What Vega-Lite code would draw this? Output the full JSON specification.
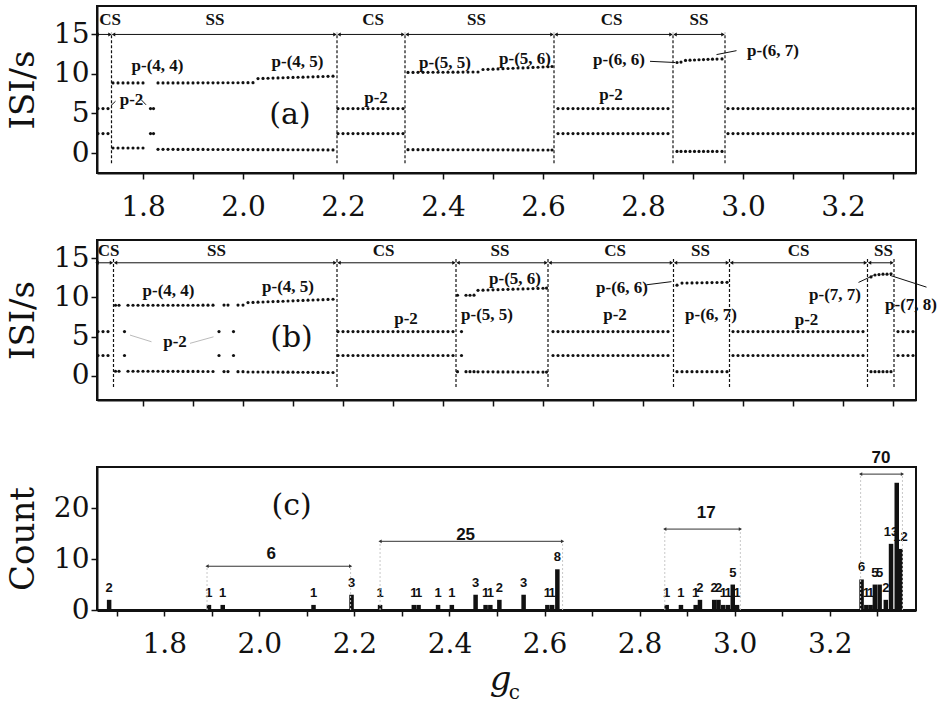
{
"$schema": "https://vega.github.io/schema/vega-lite/v6.json",
"background": "white",
"padding": 5,
"bounds": "flush",
"spacing": 67,
"config": {
  "view": {"stroke": "#111", "strokeWidth": 2},
  "axis": {"grid": false, "domainColor": "#111", "domainWidth": 2, "tickColor": "#111", "tickWidth": 1.5, "tickSize": 6, "labelFont": "DejaVu Serif", "labelFontSize": 28, "labelColor": "#111", "labelFlush": false, "labelOverlap": false, "titleFont": "DejaVu Serif", "titleFontSize": 34, "titleFontWeight": "normal", "titleColor": "#111"}
},
"datasets": {
"dotsA": [
{"g":1.71,"hi":5.62,"lo":2.46},{"g":1.72,"hi":5.62,"lo":2.46},{"g":1.73,"hi":5.62,"lo":2.46},
{"g":1.74,"hi":8.87,"lo":0.63},{"g":1.75,"hi":8.87,"lo":0.63},{"g":1.76,"hi":8.87,"lo":0.63},{"g":1.77,"hi":8.87,"lo":0.63},{"g":1.78,"hi":8.87,"lo":0.63},{"g":1.79,"hi":8.87,"lo":0.63},{"g":1.8,"hi":8.87,"lo":0.63},
{"g":1.815,"hi":5.62,"lo":2.46},{"g":1.821,"hi":5.62,"lo":2.46},
{"g":1.83,"hi":8.87,"lo":0.46},{"g":1.84,"hi":8.87,"lo":0.46},{"g":1.85,"hi":8.87,"lo":0.46},{"g":1.86,"hi":8.87,"lo":0.46},{"g":1.87,"hi":8.87,"lo":0.45},{"g":1.88,"hi":8.87,"lo":0.45},{"g":1.89,"hi":8.87,"lo":0.45},{"g":1.9,"hi":8.87,"lo":0.45},{"g":1.91,"hi":8.88,"lo":0.45},{"g":1.92,"hi":8.88,"lo":0.45},{"g":1.93,"hi":8.88,"lo":0.44},{"g":1.94,"hi":8.88,"lo":0.44},{"g":1.95,"hi":8.88,"lo":0.44},{"g":1.96,"hi":8.89,"lo":0.44},{"g":1.97,"hi":8.89,"lo":0.44},{"g":1.98,"hi":8.89,"lo":0.44},{"g":1.99,"hi":8.89,"lo":0.43},{"g":2.0,"hi":8.9,"lo":0.43},{"g":2.01,"hi":8.9,"lo":0.43},{"g":2.02,"hi":8.9,"lo":0.43},
{"g":2.03,"hi":9.42,"lo":0.42},{"g":2.04,"hi":9.44,"lo":0.42},{"g":2.05,"hi":9.46,"lo":0.42},{"g":2.06,"hi":9.48,"lo":0.42},{"g":2.07,"hi":9.5,"lo":0.42},{"g":2.08,"hi":9.52,"lo":0.42},{"g":2.09,"hi":9.54,"lo":0.41},{"g":2.1,"hi":9.56,"lo":0.41},{"g":2.11,"hi":9.58,"lo":0.41},{"g":2.12,"hi":9.6,"lo":0.41},{"g":2.13,"hi":9.62,"lo":0.4},{"g":2.14,"hi":9.64,"lo":0.4},{"g":2.15,"hi":9.66,"lo":0.4},{"g":2.16,"hi":9.68,"lo":0.4},{"g":2.17,"hi":9.7,"lo":0.39},{"g":2.18,"hi":9.72,"lo":0.39},
{"g":2.19,"hi":5.62,"lo":2.46},{"g":2.2,"hi":5.62,"lo":2.46},{"g":2.21,"hi":5.62,"lo":2.46},{"g":2.22,"hi":5.62,"lo":2.46},{"g":2.23,"hi":5.62,"lo":2.46},{"g":2.24,"hi":5.62,"lo":2.46},{"g":2.25,"hi":5.62,"lo":2.46},{"g":2.26,"hi":5.62,"lo":2.46},{"g":2.27,"hi":5.62,"lo":2.46},{"g":2.28,"hi":5.62,"lo":2.46},{"g":2.29,"hi":5.62,"lo":2.46},{"g":2.3,"hi":5.62,"lo":2.46},{"g":2.31,"hi":5.62,"lo":2.46},{"g":2.32,"hi":5.62,"lo":2.46},
{"g":2.33,"hi":10.2,"lo":0.42},{"g":2.34,"hi":10.2,"lo":0.42},{"g":2.35,"hi":10.21,"lo":0.42},{"g":2.36,"hi":10.21,"lo":0.42},{"g":2.37,"hi":10.21,"lo":0.42},{"g":2.38,"hi":10.22,"lo":0.42},{"g":2.39,"hi":10.22,"lo":0.42},{"g":2.4,"hi":10.22,"lo":0.41},{"g":2.41,"hi":10.23,"lo":0.41},{"g":2.42,"hi":10.23,"lo":0.41},{"g":2.43,"hi":10.23,"lo":0.41},{"g":2.44,"hi":10.24,"lo":0.41},{"g":2.45,"hi":10.24,"lo":0.41},{"g":2.46,"hi":10.25,"lo":0.41},{"g":2.47,"hi":10.25,"lo":0.41},
{"g":2.48,"hi":10.56,"lo":0.4},{"g":2.49,"hi":10.59,"lo":0.4},{"g":2.5,"hi":10.61,"lo":0.4},{"g":2.51,"hi":10.64,"lo":0.4},{"g":2.52,"hi":10.67,"lo":0.4},{"g":2.53,"hi":10.69,"lo":0.4},{"g":2.54,"hi":10.72,"lo":0.39},{"g":2.55,"hi":10.75,"lo":0.39},{"g":2.56,"hi":10.77,"lo":0.39},{"g":2.57,"hi":10.8,"lo":0.39},{"g":2.58,"hi":10.83,"lo":0.38},{"g":2.59,"hi":10.85,"lo":0.38},{"g":2.6,"hi":10.88,"lo":0.38},{"g":2.61,"hi":10.91,"lo":0.38},{"g":2.618,"hi":10.94,"lo":0.38},
{"g":2.63,"hi":5.62,"lo":2.46},{"g":2.64,"hi":5.62,"lo":2.46},{"g":2.65,"hi":5.62,"lo":2.46},{"g":2.66,"hi":5.62,"lo":2.46},{"g":2.67,"hi":5.62,"lo":2.46},{"g":2.68,"hi":5.62,"lo":2.46},{"g":2.69,"hi":5.62,"lo":2.46},{"g":2.7,"hi":5.62,"lo":2.46},{"g":2.71,"hi":5.62,"lo":2.46},{"g":2.72,"hi":5.62,"lo":2.46},{"g":2.73,"hi":5.62,"lo":2.46},{"g":2.74,"hi":5.62,"lo":2.46},{"g":2.75,"hi":5.62,"lo":2.46},{"g":2.76,"hi":5.62,"lo":2.46},{"g":2.77,"hi":5.62,"lo":2.46},{"g":2.78,"hi":5.62,"lo":2.46},{"g":2.79,"hi":5.62,"lo":2.46},{"g":2.8,"hi":5.62,"lo":2.46},{"g":2.81,"hi":5.62,"lo":2.46},{"g":2.82,"hi":5.62,"lo":2.46},{"g":2.83,"hi":5.62,"lo":2.46},{"g":2.84,"hi":5.62,"lo":2.46},{"g":2.85,"hi":5.62,"lo":2.46},
{"g":2.868,"hi":11.45,"lo":0.2},{"g":2.876,"hi":11.5,"lo":0.2},{"g":2.885,"hi":11.72,"lo":0.2},{"g":2.894,"hi":11.75,"lo":0.2},{"g":2.903,"hi":11.77,"lo":0.2},{"g":2.912,"hi":11.8,"lo":0.2},{"g":2.921,"hi":11.82,"lo":0.2},{"g":2.93,"hi":11.85,"lo":0.2},{"g":2.939,"hi":11.87,"lo":0.2},{"g":2.948,"hi":11.88,"lo":0.2},{"g":2.958,"hi":11.9,"lo":0.2},
{"g":2.97,"hi":5.62,"lo":2.46},{"g":2.98,"hi":5.62,"lo":2.46},{"g":2.99,"hi":5.62,"lo":2.46},{"g":3.0,"hi":5.62,"lo":2.46},{"g":3.01,"hi":5.62,"lo":2.46},{"g":3.02,"hi":5.62,"lo":2.46},{"g":3.03,"hi":5.62,"lo":2.46},{"g":3.04,"hi":5.62,"lo":2.46},{"g":3.05,"hi":5.62,"lo":2.46},{"g":3.06,"hi":5.62,"lo":2.46},{"g":3.07,"hi":5.62,"lo":2.46},{"g":3.08,"hi":5.62,"lo":2.46},{"g":3.09,"hi":5.62,"lo":2.46},{"g":3.1,"hi":5.62,"lo":2.46},{"g":3.11,"hi":5.62,"lo":2.46},{"g":3.12,"hi":5.62,"lo":2.46},{"g":3.13,"hi":5.62,"lo":2.46},{"g":3.14,"hi":5.62,"lo":2.46},{"g":3.15,"hi":5.62,"lo":2.46},{"g":3.16,"hi":5.62,"lo":2.46},{"g":3.17,"hi":5.62,"lo":2.46},{"g":3.18,"hi":5.62,"lo":2.46},{"g":3.19,"hi":5.62,"lo":2.46},{"g":3.2,"hi":5.62,"lo":2.46},{"g":3.21,"hi":5.62,"lo":2.46},{"g":3.22,"hi":5.62,"lo":2.46},{"g":3.23,"hi":5.62,"lo":2.46},{"g":3.24,"hi":5.62,"lo":2.46},{"g":3.25,"hi":5.62,"lo":2.46},{"g":3.26,"hi":5.62,"lo":2.46},{"g":3.27,"hi":5.62,"lo":2.46},{"g":3.28,"hi":5.62,"lo":2.46},{"g":3.29,"hi":5.62,"lo":2.46},{"g":3.3,"hi":5.62,"lo":2.46},{"g":3.31,"hi":5.62,"lo":2.46},{"g":3.32,"hi":5.62,"lo":2.46},{"g":3.33,"hi":5.62,"lo":2.46},{"g":3.34,"hi":5.62,"lo":2.46}
],
"dotsB": [
{"g":1.71,"hi":5.65,"lo":2.6},{"g":1.72,"hi":5.65,"lo":2.6},{"g":1.73,"hi":5.65,"lo":2.6},
{"g":1.745,"hi":9.0,"lo":0.6},{"g":1.752,"hi":9.0,"lo":0.6},
{"g":1.763,"hi":5.65,"lo":2.6},
{"g":1.77,"hi":9.0,"lo":0.6},{"g":1.78,"hi":9.0,"lo":0.6},{"g":1.79,"hi":9.0,"lo":0.6},{"g":1.8,"hi":9.0,"lo":0.6},{"g":1.81,"hi":9.0,"lo":0.6},{"g":1.82,"hi":9.0,"lo":0.6},{"g":1.83,"hi":9.0,"lo":0.6},{"g":1.84,"hi":9.0,"lo":0.59},{"g":1.85,"hi":9.0,"lo":0.59},{"g":1.86,"hi":9.0,"lo":0.59},{"g":1.87,"hi":9.0,"lo":0.59},{"g":1.88,"hi":9.0,"lo":0.58},{"g":1.89,"hi":9.0,"lo":0.58},{"g":1.9,"hi":9.0,"lo":0.58},{"g":1.91,"hi":9.0,"lo":0.58},{"g":1.92,"hi":9.01,"lo":0.57},{"g":1.93,"hi":9.01,"lo":0.57},{"g":1.94,"hi":9.01,"lo":0.57},
{"g":1.952,"hi":5.65,"lo":2.6},
{"g":1.962,"hi":9.02,"lo":0.56},{"g":1.97,"hi":9.02,"lo":0.56},
{"g":1.981,"hi":5.65,"lo":2.6},
{"g":1.99,"hi":9.02,"lo":0.55},{"g":2.0,"hi":9.02,"lo":0.55},
{"g":2.01,"hi":9.34,"lo":0.5},{"g":2.02,"hi":9.36,"lo":0.5},{"g":2.03,"hi":9.39,"lo":0.5},{"g":2.04,"hi":9.41,"lo":0.5},{"g":2.05,"hi":9.44,"lo":0.49},{"g":2.06,"hi":9.46,"lo":0.49},{"g":2.07,"hi":9.49,"lo":0.49},{"g":2.08,"hi":9.51,"lo":0.48},{"g":2.09,"hi":9.54,"lo":0.48},{"g":2.1,"hi":9.56,"lo":0.48},{"g":2.11,"hi":9.59,"lo":0.47},{"g":2.12,"hi":9.61,"lo":0.47},{"g":2.13,"hi":9.64,"lo":0.46},{"g":2.14,"hi":9.66,"lo":0.46},{"g":2.15,"hi":9.69,"lo":0.45},{"g":2.16,"hi":9.71,"lo":0.45},{"g":2.17,"hi":9.74,"lo":0.44},{"g":2.18,"hi":9.76,"lo":0.44},
{"g":2.19,"hi":5.65,"lo":2.6},{"g":2.2,"hi":5.65,"lo":2.6},{"g":2.21,"hi":5.65,"lo":2.6},{"g":2.22,"hi":5.65,"lo":2.6},{"g":2.23,"hi":5.65,"lo":2.6},{"g":2.24,"hi":5.65,"lo":2.6},{"g":2.25,"hi":5.65,"lo":2.6},{"g":2.26,"hi":5.65,"lo":2.6},{"g":2.27,"hi":5.65,"lo":2.6},{"g":2.28,"hi":5.65,"lo":2.6},{"g":2.29,"hi":5.65,"lo":2.6},{"g":2.3,"hi":5.65,"lo":2.6},{"g":2.31,"hi":5.65,"lo":2.6},{"g":2.32,"hi":5.65,"lo":2.6},{"g":2.33,"hi":5.65,"lo":2.6},{"g":2.34,"hi":5.65,"lo":2.6},{"g":2.35,"hi":5.65,"lo":2.6},{"g":2.36,"hi":5.65,"lo":2.6},{"g":2.37,"hi":5.65,"lo":2.6},{"g":2.38,"hi":5.65,"lo":2.6},{"g":2.39,"hi":5.65,"lo":2.6},{"g":2.4,"hi":5.65,"lo":2.6},{"g":2.41,"hi":5.65,"lo":2.6},{"g":2.42,"hi":5.65,"lo":2.6},
{"g":2.429,"hi":10.27,"lo":0.55},
{"g":2.437,"hi":5.65,"lo":2.6},
{"g":2.446,"hi":10.27,"lo":0.55},{"g":2.454,"hi":10.27,"lo":0.55},{"g":2.462,"hi":10.28,"lo":0.55},
{"g":2.47,"hi":10.9,"lo":0.52},{"g":2.48,"hi":10.92,"lo":0.52},{"g":2.49,"hi":10.94,"lo":0.52},{"g":2.5,"hi":10.96,"lo":0.52},{"g":2.51,"hi":10.98,"lo":0.51},{"g":2.52,"hi":11.0,"lo":0.51},{"g":2.53,"hi":11.02,"lo":0.51},{"g":2.54,"hi":11.04,"lo":0.51},{"g":2.55,"hi":11.06,"lo":0.5},{"g":2.56,"hi":11.08,"lo":0.5},{"g":2.57,"hi":11.1,"lo":0.5},{"g":2.58,"hi":11.12,"lo":0.5},{"g":2.59,"hi":11.14,"lo":0.49},{"g":2.6,"hi":11.16,"lo":0.49},{"g":2.607,"hi":11.18,"lo":0.49},
{"g":2.62,"hi":5.65,"lo":2.6},{"g":2.63,"hi":5.65,"lo":2.6},{"g":2.64,"hi":5.65,"lo":2.6},{"g":2.65,"hi":5.65,"lo":2.6},{"g":2.66,"hi":5.65,"lo":2.6},{"g":2.67,"hi":5.65,"lo":2.6},{"g":2.68,"hi":5.65,"lo":2.6},{"g":2.69,"hi":5.65,"lo":2.6},{"g":2.7,"hi":5.65,"lo":2.6},{"g":2.71,"hi":5.65,"lo":2.6},{"g":2.72,"hi":5.65,"lo":2.6},{"g":2.73,"hi":5.65,"lo":2.6},{"g":2.74,"hi":5.65,"lo":2.6},{"g":2.75,"hi":5.65,"lo":2.6},{"g":2.76,"hi":5.65,"lo":2.6},{"g":2.77,"hi":5.65,"lo":2.6},{"g":2.78,"hi":5.65,"lo":2.6},{"g":2.79,"hi":5.65,"lo":2.6},{"g":2.8,"hi":5.65,"lo":2.6},{"g":2.81,"hi":5.65,"lo":2.6},{"g":2.82,"hi":5.65,"lo":2.6},{"g":2.83,"hi":5.65,"lo":2.6},{"g":2.84,"hi":5.65,"lo":2.6},{"g":2.85,"hi":5.65,"lo":2.6},
{"g":2.868,"hi":11.55,"lo":0.55},{"g":2.878,"hi":11.82,"lo":0.55},{"g":2.888,"hi":11.83,"lo":0.55},{"g":2.898,"hi":11.84,"lo":0.55},{"g":2.908,"hi":11.85,"lo":0.55},{"g":2.918,"hi":11.86,"lo":0.55},{"g":2.928,"hi":11.87,"lo":0.55},{"g":2.938,"hi":11.88,"lo":0.55},{"g":2.948,"hi":11.89,"lo":0.55},{"g":2.958,"hi":11.9,"lo":0.55},{"g":2.968,"hi":11.91,"lo":0.55},
{"g":2.98,"hi":5.65,"lo":2.6},{"g":2.99,"hi":5.65,"lo":2.6},{"g":3.0,"hi":5.65,"lo":2.6},{"g":3.01,"hi":5.65,"lo":2.6},{"g":3.02,"hi":5.65,"lo":2.6},{"g":3.03,"hi":5.65,"lo":2.6},{"g":3.04,"hi":5.65,"lo":2.6},{"g":3.05,"hi":5.65,"lo":2.6},{"g":3.06,"hi":5.65,"lo":2.6},{"g":3.07,"hi":5.65,"lo":2.6},{"g":3.08,"hi":5.65,"lo":2.6},{"g":3.09,"hi":5.65,"lo":2.6},{"g":3.1,"hi":5.65,"lo":2.6},{"g":3.11,"hi":5.65,"lo":2.6},{"g":3.12,"hi":5.65,"lo":2.6},{"g":3.13,"hi":5.65,"lo":2.6},{"g":3.14,"hi":5.65,"lo":2.6},{"g":3.15,"hi":5.65,"lo":2.6},{"g":3.16,"hi":5.65,"lo":2.6},{"g":3.17,"hi":5.65,"lo":2.6},{"g":3.18,"hi":5.65,"lo":2.6},{"g":3.19,"hi":5.65,"lo":2.6},{"g":3.2,"hi":5.65,"lo":2.6},{"g":3.21,"hi":5.65,"lo":2.6},{"g":3.22,"hi":5.65,"lo":2.6},{"g":3.23,"hi":5.65,"lo":2.6},{"g":3.24,"hi":5.65,"lo":2.6},
{"g":3.256,"hi":12.6,"lo":0.55},{"g":3.264,"hi":12.85,"lo":0.55},{"g":3.272,"hi":12.9,"lo":0.55},{"g":3.28,"hi":12.95,"lo":0.55},{"g":3.288,"hi":12.95,"lo":0.55},{"g":3.296,"hi":13.0,"lo":0.55},
{"g":3.31,"hi":5.65,"lo":2.6},{"g":3.32,"hi":5.65,"lo":2.6},{"g":3.33,"hi":5.65,"lo":2.6},{"g":3.34,"hi":5.65,"lo":2.6}
],
"vlineA": [{"g":1.737,"y1":-1.3,"y2":15.2},{"g":2.188,"y1":-1.3,"y2":15.2},{"g":2.324,"y1":-1.3,"y2":15.2},{"g":2.622,"y1":-1.3,"y2":15.2},{"g":2.86,"y1":-1.3,"y2":15.2},{"g":2.964,"y1":-1.3,"y2":15.2}],
"vlineB": [{"g":1.741,"y1":-1.4,"y2":15.0},{"g":2.188,"y1":-1.4,"y2":15.0},{"g":2.426,"y1":-1.4,"y2":15.0},{"g":2.61,"y1":-1.4,"y2":15.0},{"g":2.861,"y1":-1.4,"y2":15.0},{"g":2.973,"y1":-1.4,"y2":15.0},{"g":3.249,"y1":-1.4,"y2":15.0},{"g":3.302,"y1":-1.4,"y2":15.0}],
"vlineC": [{"g":1.89,"y1":0,"y2":8.6},{"g":2.192,"y1":0,"y2":8.6},{"g":2.254,"y1":0,"y2":13.5},{"g":2.638,"y1":0,"y2":13.5},{"g":2.853,"y1":0,"y2":15.9},{"g":3.012,"y1":0,"y2":15.9},{"g":3.265,"y1":0,"y2":26.7},{"g":3.353,"y1":0,"y2":26.7}],
"arrA": [{"x1":1.708,"x2":1.734,"y":15.0},{"x1":1.741,"x2":2.184,"y":15.0},{"x1":2.192,"x2":2.32,"y":15.0},{"x1":2.328,"x2":2.618,"y":15.0},{"x1":2.626,"x2":2.856,"y":15.0},{"x1":2.864,"x2":2.96,"y":15.0}],
"arrB": [{"x1":1.708,"x2":1.737,"y":14.4},{"x1":1.745,"x2":2.184,"y":14.4},{"x1":2.192,"x2":2.422,"y":14.4},{"x1":2.43,"x2":2.606,"y":14.4},{"x1":2.614,"x2":2.857,"y":14.4},{"x1":2.865,"x2":2.969,"y":14.4},{"x1":2.977,"x2":3.245,"y":14.4},{"x1":3.253,"x2":3.298,"y":14.4}],
"arrC": [{"x1":1.89,"x2":2.192,"y":8.6},{"x1":2.254,"x2":2.638,"y":13.5},{"x1":2.853,"x2":3.012,"y":15.9},{"x1":3.265,"x2":3.353,"y":26.7}],
"bars": [
{"g":1.684,"n":2},
{"g":1.894,"n":1},{"g":1.923,"n":1},{"g":2.114,"n":1},{"g":2.194,"n":3},
{"g":2.254,"n":1},{"g":2.325,"n":1},{"g":2.335,"n":1},{"g":2.376,"n":1},{"g":2.405,"n":1},{"g":2.455,"n":3},{"g":2.476,"n":1},{"g":2.486,"n":1},{"g":2.505,"n":2},{"g":2.556,"n":3},{"g":2.606,"n":1},{"g":2.616,"n":1},{"g":2.627,"n":8},
{"g":2.857,"n":1},{"g":2.887,"n":1},{"g":2.918,"n":1},{"g":2.927,"n":2},{"g":2.957,"n":2},{"g":2.966,"n":2},{"g":2.976,"n":1},{"g":2.986,"n":1},{"g":2.996,"n":5},{"g":3.005,"n":1},
{"g":3.267,"n":6},{"g":3.277,"n":1},{"g":3.286,"n":1},{"g":3.295,"n":5},{"g":3.305,"n":5},{"g":3.318,"n":2},{"g":3.329,"n":13},{"g":3.341,"n":25},{"g":3.349,"n":12}
]
},
"vconcat": [
{
"width": 819, "height": 167,
"layer": [
{"data": {"name": "dotsA"}, "mark": {"type": "point", "filled": true, "size": 10, "color": "#111", "opacity": 1},
 "encoding": {
  "x": {"field": "g", "type": "quantitative", "scale": {"domain": [1.708, 3.346], "nice": false, "zero": false},
        "axis": {"values": [1.8,1.9,2.0,2.1,2.2,2.3,2.4,2.5,2.6,2.7,2.8,2.9,3.0,3.1,3.2,3.3], "labelExpr": "round(datum.value*10)%2==0 ? format(datum.value,'.1f') : ''", "labelPadding": 14, "labelOverlap": false}, "title": null},
  "y": {"field": "hi", "type": "quantitative", "scale": {"domain": [-2.53, 18.6], "nice": false, "zero": false},
        "axis": {"values": [0,2.5,5,7.5,10,12.5,15,17.5], "labelExpr": "datum.value%5==0 ? format(datum.value,'d') : ''", "labelPadding": 2, "labelOverlap": false, "titlePadding": 13}, "title": "ISI/s"}
 }},
{"data": {"name": "dotsA"}, "mark": {"type": "point", "filled": true, "size": 10, "color": "#111", "opacity": 1},
 "encoding": {"x": {"field": "g", "type": "quantitative", "title": null}, "y": {"field": "lo", "type": "quantitative", "title": "ISI/s"}}},
{"data": {"name": "vlineA"},
 "mark": {"type": "rule", "strokeDash": [3,2], "strokeWidth": 1.2, "color": "#111"},
 "encoding": {"x": {"field": "g", "type": "quantitative", "title": null}, "y": {"field": "y1", "type": "quantitative", "title": "ISI/s"}, "y2": {"field": "y2"}}},
{"data": {"name": "arrA"}, "mark": {"type": "rule", "strokeWidth": 1, "color": "#111"},
 "encoding": {"x": {"field": "x1", "type": "quantitative", "title": null}, "x2": {"field": "x2"}, "y": {"field": "y", "type": "quantitative", "title": "ISI/s"}}},
{"data": {"name": "arrA"}, "mark": {"type": "point", "shape": "triangle-left", "filled": true, "size": 16, "color": "#111", "opacity": 1},
 "encoding": {"x": {"field": "x1", "type": "quantitative", "title": null}, "y": {"field": "y", "type": "quantitative", "title": "ISI/s"}}},
{"data": {"name": "arrA"}, "mark": {"type": "point", "shape": "triangle-right", "filled": true, "size": 16, "color": "#111", "opacity": 1},
 "encoding": {"x": {"field": "x2", "type": "quantitative", "title": null}, "y": {"field": "y", "type": "quantitative", "title": "ISI/s"}}},
{"data": {"values": [{"x":1.734,"y":16.8,"t":"CS"},{"x":1.944,"y":16.8,"t":"SS"},{"x":2.26,"y":16.8,"t":"CS"},{"x":2.467,"y":16.8,"t":"SS"},{"x":2.737,"y":16.8,"t":"CS"},{"x":2.912,"y":16.8,"t":"SS"},
   {"x":1.829,"y":11.0,"t":"p-(4, 4)"},{"x":2.109,"y":11.5,"t":"p-(4, 5)"},{"x":1.777,"y":6.7,"t":"p-2"},{"x":2.266,"y":7.0,"t":"p-2"},{"x":2.404,"y":11.4,"t":"p-(5, 5)"},{"x":2.564,"y":11.95,"t":"p-(5, 6)"},{"x":2.752,"y":11.8,"t":"p-(6, 6)"},{"x":3.06,"y":12.9,"t":"p-(6, 7)"},{"x":2.736,"y":7.3,"t":"p-2"}]},
 "mark": {"type": "text", "font": "Liberation Serif", "fontWeight": "bold", "fontSize": 17, "color": "#111", "baseline": "middle"},
 "encoding": {"x": {"field": "x", "type": "quantitative", "title": null}, "y": {"field": "y", "type": "quantitative", "title": "ISI/s"}, "text": {"field": "t", "type": "nominal"}}},
{"data": {"values": [{"x":1.745,"y":6.55,"x2":1.736,"y2":6.0},{"x":1.797,"y":6.7,"x2":1.806,"y2":6.1},{"x":2.814,"y":11.6,"x2":2.864,"y2":11.45},{"x":2.987,"y":12.95,"x2":2.947,"y2":12.45}]},
 "mark": {"type": "rule", "strokeWidth": 1, "color": "#111"},
 "encoding": {"x": {"field": "x", "type": "quantitative", "title": null}, "y": {"field": "y", "type": "quantitative", "title": "ISI/s"}, "x2": {"field": "x2"}, "y2": {"field": "y2"}}},
{"data": {"values": [{"x":2.094,"y":4.86,"t":"(a)"}]},
 "mark": {"type": "text", "font": "DejaVu Serif", "fontSize": 30, "color": "#111", "baseline": "middle"},
 "encoding": {"x": {"field": "x", "type": "quantitative", "title": null}, "y": {"field": "y", "type": "quantitative", "title": "ISI/s"}, "text": {"field": "t", "type": "nominal"}}}
]
},
{
"width": 819, "height": 160,
"layer": [
{"data": {"name": "dotsB"}, "mark": {"type": "point", "filled": true, "size": 10, "color": "#111", "opacity": 1},
 "encoding": {
  "x": {"field": "g", "type": "quantitative", "scale": {"domain": [1.708, 3.346], "nice": false, "zero": false},
        "axis": {"values": [1.8,1.9,2.0,2.1,2.2,2.3,2.4,2.5,2.6,2.7,2.8,2.9,3.0,3.1,3.2,3.3], "labels": false}, "title": null},
  "y": {"field": "hi", "type": "quantitative", "scale": {"domain": [-3.06, 17.3], "nice": false, "zero": false},
        "axis": {"values": [0,2.5,5,7.5,10,12.5,15], "labelExpr": "datum.value%5==0 ? format(datum.value,'d') : ''", "labelPadding": 2, "labelOverlap": false, "titlePadding": 13}, "title": "ISI/s"}
 }},
{"data": {"name": "dotsB"}, "mark": {"type": "point", "filled": true, "size": 10, "color": "#111", "opacity": 1},
 "encoding": {"x": {"field": "g", "type": "quantitative", "title": null}, "y": {"field": "lo", "type": "quantitative", "title": "ISI/s"}}},
{"data": {"name": "vlineB"},
 "mark": {"type": "rule", "strokeDash": [3,2], "strokeWidth": 1.2, "color": "#111"},
 "encoding": {"x": {"field": "g", "type": "quantitative", "title": null}, "y": {"field": "y1", "type": "quantitative", "title": "ISI/s"}, "y2": {"field": "y2"}}},
{"data": {"name": "arrB"}, "mark": {"type": "rule", "strokeWidth": 1, "color": "#111"},
 "encoding": {"x": {"field": "x1", "type": "quantitative", "title": null}, "x2": {"field": "x2"}, "y": {"field": "y", "type": "quantitative", "title": "ISI/s"}}},
{"data": {"name": "arrB"}, "mark": {"type": "point", "shape": "triangle-left", "filled": true, "size": 16, "color": "#111", "opacity": 1},
 "encoding": {"x": {"field": "x1", "type": "quantitative", "title": null}, "y": {"field": "y", "type": "quantitative", "title": "ISI/s"}}},
{"data": {"name": "arrB"}, "mark": {"type": "point", "shape": "triangle-right", "filled": true, "size": 16, "color": "#111", "opacity": 1},
 "encoding": {"x": {"field": "x2", "type": "quantitative", "title": null}, "y": {"field": "y", "type": "quantitative", "title": "ISI/s"}}},
{"data": {"values": [{"x":1.731,"y":15.9,"t":"CS"},{"x":1.947,"y":15.9,"t":"SS"},{"x":2.281,"y":15.9,"t":"CS"},{"x":2.514,"y":15.9,"t":"SS"},{"x":2.744,"y":15.9,"t":"CS"},{"x":2.915,"y":15.9,"t":"SS"},{"x":3.111,"y":15.9,"t":"CS"},{"x":3.281,"y":15.9,"t":"SS"},
   {"x":1.851,"y":10.8,"t":"p-(4, 4)"},{"x":2.09,"y":11.3,"t":"p-(4, 5)"},{"x":1.864,"y":4.35,"t":"p-2"},{"x":2.326,"y":7.3,"t":"p-2"},{"x":2.488,"y":7.7,"t":"p-(5, 5)"},{"x":2.544,"y":12.4,"t":"p-(5, 6)"},{"x":2.758,"y":11.2,"t":"p-(6, 6)"},{"x":2.744,"y":7.8,"t":"p-2"},{"x":2.936,"y":7.8,"t":"p-(6, 7)"},{"x":3.184,"y":10.3,"t":"p-(7, 7)"},{"x":3.127,"y":7.1,"t":"p-2"},{"x":3.336,"y":9.0,"t":"p-(7, 8)"}]},
 "mark": {"type": "text", "font": "Liberation Serif", "fontWeight": "bold", "fontSize": 17, "color": "#111", "baseline": "middle"},
 "encoding": {"x": {"field": "x", "type": "quantitative", "title": null}, "y": {"field": "y", "type": "quantitative", "title": "ISI/s"}, "text": {"field": "t", "type": "nominal"}}},
{"data": {"values": [{"x":1.817,"y":4.35,"x2":1.774,"y2":5.2},{"x":1.894,"y":4.15,"x2":1.941,"y2":4.98}]},
 "mark": {"type": "rule", "strokeWidth": 1, "color": "#bbb"},
 "encoding": {"x": {"field": "x", "type": "quantitative", "title": null}, "y": {"field": "y", "type": "quantitative", "title": "ISI/s"}, "x2": {"field": "x2"}, "y2": {"field": "y2"}}},
{"data": {"values": [{"x":2.807,"y":11.6,"x2":2.857,"y2":12.0},{"x":3.231,"y":11.9,"x2":3.261,"y2":12.8},{"x":3.294,"y":12.8,"x2":3.367,"y2":11.3}]},
 "mark": {"type": "rule", "strokeWidth": 1, "color": "#111"},
 "encoding": {"x": {"field": "x", "type": "quantitative", "title": null}, "y": {"field": "y", "type": "quantitative", "title": "ISI/s"}, "x2": {"field": "x2"}, "y2": {"field": "y2"}}},
{"data": {"values": [{"x":2.097,"y":4.8,"t":"(b)"}]},
 "mark": {"type": "text", "font": "DejaVu Serif", "fontSize": 30, "color": "#111", "baseline": "middle"},
 "encoding": {"x": {"field": "x", "type": "quantitative", "title": null}, "y": {"field": "y", "type": "quantitative", "title": "ISI/s"}, "text": {"field": "t", "type": "nominal"}}}
]
},
{
"width": 819, "height": 143,
"layer": [
{"data": {"name": "bars"}, "mark": {"type": "bar", "width": 4.5, "color": "#111"},
 "encoding": {
  "x": {"field": "g", "type": "quantitative", "scale": {"domain": [1.669, 3.371], "nice": false, "zero": false},
        "axis": {"values": [1.7,1.8,1.9,2.0,2.1,2.2,2.3,2.4,2.5,2.6,2.7,2.8,2.9,3.0,3.1,3.2,3.3], "labelExpr": "round(datum.value*10)%2==0 ? format(datum.value,'.1f') : ''", "labelPadding": 14, "labelOverlap": false, "domainWidth": 3, "titleFontStyle": "italic", "titleX": 403, "titlePadding": 4}, "title": "g"},
  "y": {"field": "n", "type": "quantitative", "scale": {"domain": [0, 28.1], "nice": false, "zero": false},
        "axis": {"values": [0,5,10,15,20,25], "labelExpr": "datum.value%10==0 ? format(datum.value,'d') : ''", "labelPadding": 2, "labelOverlap": false, "titlePadding": 13}, "title": "Count"}
 }},
{"data": {"name": "bars"}, "transform": [{"filter": "datum.n != 25"}],
 "mark": {"type": "text", "font": "Liberation Sans", "fontWeight": "bold", "fontSize": 13, "color": "#111", "baseline": "alphabetic", "dy": -8},
 "encoding": {"x": {"field": "g", "type": "quantitative", "title": "g"}, "y": {"field": "n", "type": "quantitative", "title": "Count"}, "text": {"field": "n", "type": "quantitative"}}},
{"data": {"name": "vlineC"},
 "mark": {"type": "rule", "strokeDash": [2,2], "strokeWidth": 1, "color": "#c8c8c8"},
 "encoding": {"x": {"field": "g", "type": "quantitative", "title": "g"}, "y": {"field": "y1", "type": "quantitative", "title": "Count"}, "y2": {"field": "y2"}}},
{"data": {"name": "arrC"}, "mark": {"type": "rule", "strokeWidth": 1, "color": "#333"},
 "encoding": {"x": {"field": "x1", "type": "quantitative", "title": "g"}, "x2": {"field": "x2"}, "y": {"field": "y", "type": "quantitative", "title": "Count"}}},
{"data": {"name": "arrC"}, "mark": {"type": "point", "shape": "triangle-left", "filled": true, "size": 14, "color": "#333", "opacity": 1},
 "encoding": {"x": {"field": "x1", "type": "quantitative", "title": "g"}, "y": {"field": "y", "type": "quantitative", "title": "Count"}}},
{"data": {"name": "arrC"}, "mark": {"type": "point", "shape": "triangle-right", "filled": true, "size": 14, "color": "#333", "opacity": 1},
 "encoding": {"x": {"field": "x2", "type": "quantitative", "title": "g"}, "y": {"field": "y", "type": "quantitative", "title": "Count"}}},
{"data": {"values": [{"x":2.025,"y":11.0,"t":"6"},{"x":2.434,"y":14.8,"t":"25"},{"x":2.94,"y":19.1,"t":"17"},{"x":3.308,"y":29.9,"t":"70"}]},
 "mark": {"type": "text", "font": "Liberation Sans", "fontWeight": "bold", "fontSize": 17, "color": "#111", "baseline": "middle"},
 "encoding": {"x": {"field": "x", "type": "quantitative", "title": "g"}, "y": {"field": "y", "type": "quantitative", "title": "Count"}, "text": {"field": "t", "type": "nominal"}}},
{"data": {"values": [{"x":2.068,"y":20.4,"t":"(c)"}]},
 "mark": {"type": "text", "font": "DejaVu Serif", "fontSize": 30, "color": "#111", "baseline": "middle"},
 "encoding": {"x": {"field": "x", "type": "quantitative", "title": "g"}, "y": {"field": "y", "type": "quantitative", "title": "Count"}, "text": {"field": "t", "type": "nominal"}}},
{"data": {"values": [{"x":2.5364,"y":-17.45,"t":"c"}]},
 "mark": {"type": "text", "font": "DejaVu Serif", "fontSize": 20, "color": "#111", "baseline": "alphabetic"},
 "encoding": {"x": {"field": "x", "type": "quantitative", "title": "g"}, "y": {"field": "y", "type": "quantitative", "title": "Count"}, "text": {"field": "t", "type": "nominal"}}}
]
}
]
}
